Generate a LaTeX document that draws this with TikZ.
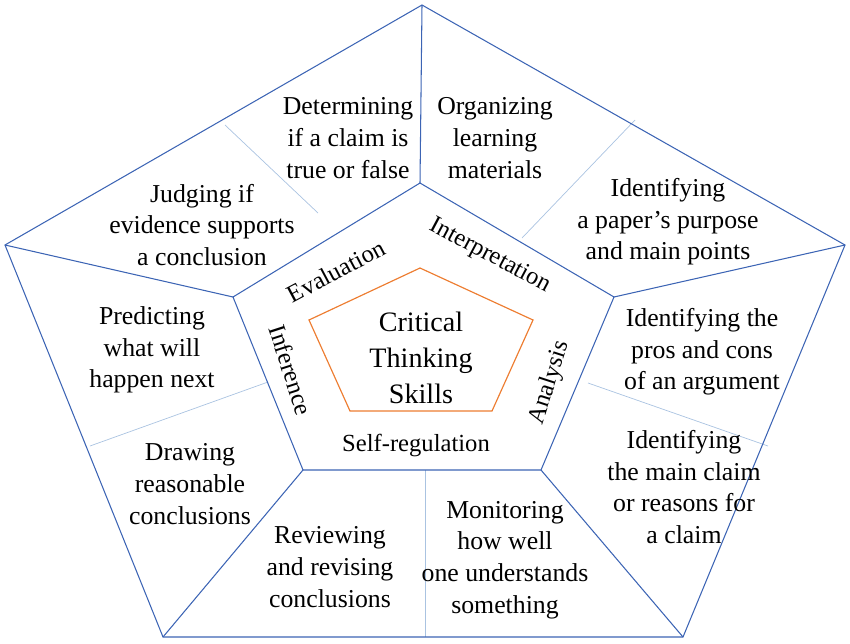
\documentclass[tikz,border=0pt]{standalone}
\usepackage{fontspec}
\setmainfont{Liberation Serif}
\definecolor{bl}{RGB}{60,100,180}
\definecolor{lb}{RGB}{170,195,225}
\definecolor{orn}{RGB}{237,125,49}
\begin{document}
\begin{tikzpicture}[x=0.03cm,y=-0.03cm,
  edge/.style={draw=bl,line width=0.9pt},
  thin/.style={draw=lb,line width=0.6pt},
  txt/.style={font=\fontsize{22}{27}\selectfont,align=center,inner sep=0pt},
  ring/.style={font=\fontsize{21}{24}\selectfont,inner sep=0pt}]
\useasboundingbox (0,0) rectangle (850,643);
\coordinate (O1) at (422,5); \coordinate (O2) at (845,245); \coordinate (O3) at (683,637);
\coordinate (O4) at (163,637); \coordinate (O5) at (5,245);
\coordinate (M1) at (420,183); \coordinate (M2) at (614,297); \coordinate (M3) at (541,470);
\coordinate (M4) at (303,470); \coordinate (M5) at (233,297);
\coordinate (I1) at (420,268); \coordinate (I2) at (533,320); \coordinate (I3) at (492,411);
\coordinate (I4) at (350,411); \coordinate (I5) at (309,320);
\draw[thin] (225,125) -- (318,213);
\draw[thin] (635,120) -- (522,238);
\draw[thin] (768,446) -- (588,383);
\draw[thin] (425,470) -- (425,637);
\draw[thin] (90,446) -- (268,382);
\draw[edge] (O1)--(O2)--(O3)--(O4)--(O5)--cycle;
\draw[edge] (M1)--(M2)--(M3)--(M4)--(M5)--cycle;
\foreach \i in {1,...,5} \draw[edge] (O\i)--(M\i);
\draw[draw=orn,line width=1pt] (I1)--(I2)--(I3)--(I4)--(I5)--cycle;
\node[txt,font=\fontsize{24}{31}\selectfont] (c) at (421,358) {Critical\\Thinking\\Skills};
\node[ring,rotate=28] (ev) at (336,271) {Evaluation};
\node[ring,rotate=-28] (in) at (490,256) {Interpretation};
\node[ring,rotate=72] (an) at (550,383) {Analysis};
\node[ring,rotate=-72] (inf) at (291,370) {Inference};
\node[ring] (sr) at (416,445) {Self-regulation};
\node[txt] (t1) at (348,138) {Determining\\if a claim is\\true or false};
\node[txt] (t2) at (202,225) {Judging if\\evidence supports\\a conclusion};
\node[txt] (t3) at (495,138) {Organizing\\learning\\materials};
\node[txt] (t4) at (668,222) {Identifying\\a paper’s purpose\\and main points};
\node[txt] (t5) at (702,352) {Identifying the\\pros and cons\\of an argument};
\node[txt] (t6) at (684,487) {Identifying\\the main claim\\or reasons for\\a claim};
\node[txt] (t7) at (505,560) {Monitoring\\how well\\one understands\\something};
\node[txt] (t8) at (330,567) {Reviewing\\and revising\\conclusions};
\node[txt] (t9) at (152,350) {Predicting\\what will\\happen next};
\node[txt] (t10) at (190,484) {Drawing\\reasonable\\conclusions};
\end{tikzpicture}
\end{document}
